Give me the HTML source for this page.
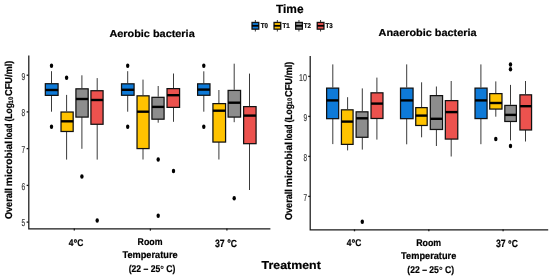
<!DOCTYPE html><html><head><meta charset="utf-8"><style>html,body{margin:0;padding:0;background:#fff;width:550px;height:278px;overflow:hidden}svg{display:block}</style></head><body><svg width="550" height="278" viewBox="0 0 550 278">
<style>.w{stroke:#3a3a3a;stroke-width:1}.b{stroke:#111;stroke-width:1.25}.m{stroke:#000;stroke-width:2.4}.o{fill:#000}.ax{stroke:#1a1a1a;stroke-width:1.25;fill:none}.tk{stroke:#1a1a1a;stroke-width:1.3}text{font-family:"Liberation Sans",Arial,sans-serif;text-rendering:geometricPrecision}.bd{font-weight:bold;fill:#000;stroke:#000;stroke-width:0.2}.tl{fill:#333;stroke:#333;stroke-width:0.15}</style>
<rect width="550" height="278" fill="#fff"/>
<path class="ax" d="M28.8,55.6 V228.9 H270.4"/>
<path class="ax" d="M310.2,56.1 V229.8 H548.2"/>
<line class="tk" x1="26.6" y1="75.2" x2="28.6" y2="75.2"/>
<text class="tl" x="25.3" y="79.5" font-size="10" text-anchor="end" textLength="3.7" lengthAdjust="spacingAndGlyphs">9</text>
<line class="tk" x1="26.6" y1="111.9" x2="28.6" y2="111.9"/>
<text class="tl" x="25.3" y="116.2" font-size="10" text-anchor="end" textLength="3.7" lengthAdjust="spacingAndGlyphs">8</text>
<line class="tk" x1="26.6" y1="148.6" x2="28.6" y2="148.6"/>
<text class="tl" x="25.3" y="152.9" font-size="10" text-anchor="end" textLength="3.7" lengthAdjust="spacingAndGlyphs">7</text>
<line class="tk" x1="26.6" y1="185.4" x2="28.6" y2="185.4"/>
<text class="tl" x="25.3" y="189.7" font-size="10" text-anchor="end" textLength="3.7" lengthAdjust="spacingAndGlyphs">6</text>
<line class="tk" x1="26.6" y1="222.1" x2="28.6" y2="222.1"/>
<text class="tl" x="25.3" y="226.4" font-size="10" text-anchor="end" textLength="3.7" lengthAdjust="spacingAndGlyphs">5</text>
<line class="tk" x1="308.2" y1="76.4" x2="310.2" y2="76.4"/>
<text class="tl" x="307.0" y="80.5" font-size="10" text-anchor="end" textLength="7.9" lengthAdjust="spacingAndGlyphs">10</text>
<line class="tk" x1="308.2" y1="116.4" x2="310.2" y2="116.4"/>
<text class="tl" x="307.0" y="120.5" font-size="10" text-anchor="end" textLength="3.6" lengthAdjust="spacingAndGlyphs">9</text>
<line class="tk" x1="308.2" y1="156.4" x2="310.2" y2="156.4"/>
<text class="tl" x="307.0" y="160.5" font-size="10" text-anchor="end" textLength="3.6" lengthAdjust="spacingAndGlyphs">8</text>
<line class="tk" x1="308.2" y1="196.4" x2="310.2" y2="196.4"/>
<text class="tl" x="307.0" y="200.5" font-size="10" text-anchor="end" textLength="3.6" lengthAdjust="spacingAndGlyphs">7</text>
<line class="tk" x1="74.3" y1="228.6" x2="74.3" y2="230.6"/>
<line class="tk" x1="150.4" y1="228.6" x2="150.4" y2="230.6"/>
<line class="tk" x1="226.9" y1="228.6" x2="226.9" y2="230.6"/>
<line class="tk" x1="354.5" y1="229.3" x2="354.5" y2="231.3"/>
<line class="tk" x1="428.8" y1="229.3" x2="428.8" y2="231.3"/>
<line class="tk" x1="503.1" y1="229.3" x2="503.1" y2="231.3"/>
<line x1="51.50" y1="71.20" x2="51.50" y2="83.10" class="w"/>
<line x1="51.50" y1="95.30" x2="51.50" y2="111.70" class="w"/>
<rect x="45.33" y="83.72" width="12.75" height="11.65" fill="#0e7ad8" class="b"/>
<line x1="45.33" y1="90.00" x2="58.08" y2="90.00" class="m"/>
<ellipse cx="51.50" cy="65.70" rx="1.7" ry="2.25" class="o"/>
<ellipse cx="51.50" cy="126.80" rx="1.7" ry="2.25" class="o"/>
<line x1="66.60" y1="94.90" x2="66.60" y2="111.40" class="w"/>
<line x1="66.60" y1="131.40" x2="66.60" y2="159.60" class="w"/>
<rect x="61.02" y="112.03" width="12.15" height="19.45" fill="#ffc300" class="b"/>
<line x1="61.02" y1="121.30" x2="73.17" y2="121.30" class="m"/>
<ellipse cx="66.60" cy="77.80" rx="1.7" ry="2.25" class="o"/>
<line x1="81.90" y1="75.30" x2="81.90" y2="88.20" class="w"/>
<line x1="81.90" y1="117.00" x2="81.90" y2="148.80" class="w"/>
<rect x="75.92" y="88.83" width="12.25" height="28.25" fill="#8d8d8d" class="b"/>
<line x1="75.92" y1="99.00" x2="88.17" y2="99.00" class="m"/>
<ellipse cx="81.90" cy="176.40" rx="1.7" ry="2.25" class="o"/>
<line x1="97.20" y1="78.10" x2="97.20" y2="90.10" class="w"/>
<line x1="97.20" y1="124.20" x2="97.20" y2="159.60" class="w"/>
<rect x="90.92" y="90.72" width="12.15" height="33.55" fill="#ec524e" class="b"/>
<line x1="90.92" y1="100.00" x2="103.08" y2="100.00" class="m"/>
<ellipse cx="97.20" cy="220.50" rx="1.7" ry="2.25" class="o"/>
<line x1="127.70" y1="71.20" x2="127.70" y2="83.20" class="w"/>
<line x1="127.70" y1="95.20" x2="127.70" y2="111.70" class="w"/>
<rect x="121.53" y="83.83" width="12.55" height="11.45" fill="#0e7ad8" class="b"/>
<line x1="121.53" y1="89.80" x2="134.07" y2="89.80" class="m"/>
<ellipse cx="127.70" cy="65.70" rx="1.7" ry="2.25" class="o"/>
<ellipse cx="127.70" cy="126.70" rx="1.7" ry="2.25" class="o"/>
<line x1="143.00" y1="79.60" x2="143.00" y2="95.20" class="w"/>
<line x1="143.00" y1="148.50" x2="143.00" y2="159.50" class="w"/>
<rect x="137.03" y="95.83" width="12.05" height="52.75" fill="#ffc300" class="b"/>
<line x1="137.03" y1="111.70" x2="149.07" y2="111.70" class="m"/>
<line x1="158.20" y1="86.00" x2="158.20" y2="96.70" class="w"/>
<line x1="158.20" y1="119.10" x2="158.20" y2="122.70" class="w"/>
<rect x="151.93" y="97.33" width="12.15" height="21.85" fill="#8d8d8d" class="b"/>
<line x1="151.93" y1="106.90" x2="164.07" y2="106.90" class="m"/>
<ellipse cx="158.20" cy="159.60" rx="1.7" ry="2.25" class="o"/>
<ellipse cx="158.20" cy="215.80" rx="1.7" ry="2.25" class="o"/>
<line x1="173.50" y1="73.50" x2="173.50" y2="88.00" class="w"/>
<line x1="173.50" y1="107.30" x2="173.50" y2="121.80" class="w"/>
<rect x="167.03" y="88.62" width="12.55" height="18.75" fill="#ec524e" class="b"/>
<line x1="167.03" y1="95.20" x2="179.57" y2="95.20" class="m"/>
<ellipse cx="173.50" cy="170.90" rx="1.7" ry="2.25" class="o"/>
<line x1="203.80" y1="71.30" x2="203.80" y2="83.20" class="w"/>
<line x1="203.80" y1="95.20" x2="203.80" y2="111.70" class="w"/>
<rect x="197.62" y="83.83" width="12.35" height="11.45" fill="#0e7ad8" class="b"/>
<line x1="197.62" y1="89.60" x2="209.97" y2="89.60" class="m"/>
<ellipse cx="203.80" cy="65.70" rx="1.7" ry="2.25" class="o"/>
<ellipse cx="203.80" cy="126.70" rx="1.7" ry="2.25" class="o"/>
<line x1="218.90" y1="90.00" x2="218.90" y2="103.00" class="w"/>
<line x1="218.90" y1="142.00" x2="218.90" y2="159.50" class="w"/>
<rect x="212.93" y="103.62" width="12.65" height="38.45" fill="#ffc300" class="b"/>
<line x1="212.93" y1="110.70" x2="225.57" y2="110.70" class="m"/>
<line x1="234.20" y1="63.70" x2="234.20" y2="89.80" class="w"/>
<line x1="234.20" y1="117.00" x2="234.20" y2="122.20" class="w"/>
<rect x="228.12" y="90.42" width="12.45" height="26.65" fill="#8d8d8d" class="b"/>
<line x1="228.12" y1="102.70" x2="240.57" y2="102.70" class="m"/>
<ellipse cx="234.20" cy="198.20" rx="1.7" ry="2.25" class="o"/>
<line x1="249.50" y1="73.60" x2="249.50" y2="106.00" class="w"/>
<line x1="249.50" y1="143.60" x2="249.50" y2="190.00" class="w"/>
<rect x="243.62" y="106.62" width="12.45" height="37.05" fill="#ec524e" class="b"/>
<line x1="243.62" y1="115.60" x2="256.07" y2="115.60" class="m"/>
<line x1="332.80" y1="64.40" x2="332.80" y2="87.50" class="w"/>
<line x1="332.80" y1="118.60" x2="332.80" y2="144.10" class="w"/>
<rect x="326.62" y="88.12" width="12.05" height="30.55" fill="#0e7ad8" class="b"/>
<line x1="326.62" y1="100.40" x2="338.68" y2="100.40" class="m"/>
<line x1="347.60" y1="97.20" x2="347.60" y2="109.20" class="w"/>
<line x1="347.60" y1="144.30" x2="347.60" y2="150.40" class="w"/>
<rect x="341.43" y="109.83" width="11.65" height="34.55" fill="#ffc300" class="b"/>
<line x1="341.43" y1="121.60" x2="353.07" y2="121.60" class="m"/>
<line x1="362.30" y1="88.40" x2="362.30" y2="111.20" class="w"/>
<line x1="362.30" y1="137.20" x2="362.30" y2="149.60" class="w"/>
<rect x="356.12" y="111.83" width="11.85" height="25.45" fill="#8d8d8d" class="b"/>
<line x1="356.12" y1="118.30" x2="367.98" y2="118.30" class="m"/>
<ellipse cx="362.30" cy="221.80" rx="1.7" ry="2.25" class="o"/>
<line x1="376.90" y1="77.60" x2="376.90" y2="92.20" class="w"/>
<line x1="376.90" y1="118.40" x2="376.90" y2="139.60" class="w"/>
<rect x="371.02" y="92.83" width="11.95" height="25.65" fill="#ec524e" class="b"/>
<line x1="371.02" y1="103.60" x2="382.98" y2="103.60" class="m"/>
<line x1="406.70" y1="64.40" x2="406.70" y2="87.50" class="w"/>
<line x1="406.70" y1="118.60" x2="406.70" y2="144.30" class="w"/>
<rect x="400.52" y="88.12" width="12.55" height="30.55" fill="#0e7ad8" class="b"/>
<line x1="400.52" y1="100.40" x2="413.07" y2="100.40" class="m"/>
<line x1="421.60" y1="82.30" x2="421.60" y2="107.00" class="w"/>
<line x1="421.60" y1="125.40" x2="421.60" y2="137.30" class="w"/>
<rect x="415.73" y="107.62" width="11.45" height="17.85" fill="#ffc300" class="b"/>
<line x1="415.73" y1="115.60" x2="427.18" y2="115.60" class="m"/>
<line x1="436.40" y1="86.50" x2="436.40" y2="95.00" class="w"/>
<line x1="436.40" y1="129.40" x2="436.40" y2="146.00" class="w"/>
<rect x="430.32" y="95.62" width="12.25" height="33.85" fill="#8d8d8d" class="b"/>
<line x1="430.32" y1="118.80" x2="442.57" y2="118.80" class="m"/>
<line x1="451.20" y1="81.00" x2="451.20" y2="100.00" class="w"/>
<line x1="451.20" y1="139.00" x2="451.20" y2="156.50" class="w"/>
<rect x="445.32" y="100.62" width="12.45" height="38.45" fill="#ec524e" class="b"/>
<line x1="445.32" y1="112.10" x2="457.77" y2="112.10" class="m"/>
<line x1="480.90" y1="64.40" x2="480.90" y2="87.50" class="w"/>
<line x1="480.90" y1="118.50" x2="480.90" y2="144.20" class="w"/>
<rect x="475.02" y="88.12" width="12.05" height="30.45" fill="#0e7ad8" class="b"/>
<line x1="475.02" y1="100.40" x2="487.07" y2="100.40" class="m"/>
<line x1="495.80" y1="81.40" x2="495.80" y2="93.00" class="w"/>
<line x1="495.80" y1="109.00" x2="495.80" y2="116.70" class="w"/>
<rect x="489.73" y="93.62" width="12.25" height="15.45" fill="#ffc300" class="b"/>
<line x1="489.73" y1="103.00" x2="501.98" y2="103.00" class="m"/>
<ellipse cx="495.80" cy="139.10" rx="1.7" ry="2.25" class="o"/>
<line x1="510.50" y1="84.90" x2="510.50" y2="104.80" class="w"/>
<line x1="510.50" y1="121.40" x2="510.50" y2="140.40" class="w"/>
<rect x="504.82" y="105.42" width="11.55" height="16.05" fill="#8d8d8d" class="b"/>
<line x1="504.82" y1="114.90" x2="516.38" y2="114.90" class="m"/>
<ellipse cx="510.50" cy="64.40" rx="1.7" ry="2.25" class="o"/>
<ellipse cx="510.50" cy="69.30" rx="1.7" ry="2.25" class="o"/>
<ellipse cx="510.50" cy="146.00" rx="1.7" ry="2.25" class="o"/>
<line x1="525.50" y1="81.00" x2="525.50" y2="94.20" class="w"/>
<line x1="525.50" y1="129.90" x2="525.50" y2="141.50" class="w"/>
<rect x="519.92" y="94.83" width="11.65" height="35.15" fill="#ec524e" class="b"/>
<line x1="519.92" y1="106.20" x2="531.58" y2="106.20" class="m"/>
<text class="bd" x="276" y="12.5" font-size="12" text-anchor="start" textLength="27.5" lengthAdjust="spacingAndGlyphs" >Time</text>
<text class="bd" x="109.4" y="36.7" font-size="10.1" text-anchor="start" textLength="85.3" lengthAdjust="spacingAndGlyphs" >Aerobic bacteria</text>
<text class="bd" x="378.6" y="35.7" font-size="10.1" text-anchor="start" textLength="97.9" lengthAdjust="spacingAndGlyphs" >Anaerobic bacteria</text>
<text class="bd" x="261.6" y="269.1" font-size="11.5" text-anchor="start" textLength="59.2" lengthAdjust="spacingAndGlyphs" >Treatment</text>
<text class="bd" x="68.85000000000001" y="246.2" font-size="9.8" text-anchor="start" textLength="14.5" lengthAdjust="spacingAndGlyphs" >4<tspan font-size="11" dy="0.6">°</tspan><tspan dy="-0.6">C</tspan></text>
<text class="bd" x="346.79999999999995" y="246.2" font-size="9.8" text-anchor="start" textLength="14.5" lengthAdjust="spacingAndGlyphs" >4<tspan font-size="11" dy="0.6">°</tspan><tspan dy="-0.6">C</tspan></text>
<text class="bd" x="137.54999999999998" y="244.5" font-size="9.8" text-anchor="start" textLength="24.9" lengthAdjust="spacingAndGlyphs" >Room</text>
<text class="bd" x="122.44999999999999" y="257.9" font-size="9.8" text-anchor="start" textLength="55.2" lengthAdjust="spacingAndGlyphs" >Temperature</text>
<text class="bd" x="128.64999999999998" y="272.3" font-size="9.8" text-anchor="start" textLength="46.8" lengthAdjust="spacingAndGlyphs" >(22 – 25<tspan font-size="10.5" dy="0.9" stroke-width="0.1">°</tspan><tspan dy="-0.9"> C)</tspan></text>
<text class="bd" x="416.20000000000005" y="245.9" font-size="9.8" text-anchor="start" textLength="24.9" lengthAdjust="spacingAndGlyphs" >Room</text>
<text class="bd" x="401.1" y="259.3" font-size="9.8" text-anchor="start" textLength="55.2" lengthAdjust="spacingAndGlyphs" >Temperature</text>
<text class="bd" x="407.3" y="273.3" font-size="9.8" text-anchor="start" textLength="46.8" lengthAdjust="spacingAndGlyphs" >(22 – 25<tspan font-size="10.5" dy="0.9" stroke-width="0.1">°</tspan><tspan dy="-0.9"> C)</tspan></text>
<text class="bd" x="215.0" y="246.5" font-size="10.6" text-anchor="start" textLength="9.7" lengthAdjust="spacingAndGlyphs" >37</text>
<text class="bd" x="227.2" y="246.5" font-size="10.4" text-anchor="start" textLength="9.8" lengthAdjust="spacingAndGlyphs" ><tspan font-size="11" dy="0.6">°</tspan><tspan dy="-0.6">C</tspan></text>
<text class="bd" x="495.9" y="247.1" font-size="10.6" text-anchor="start" textLength="9.7" lengthAdjust="spacingAndGlyphs" >37</text>
<text class="bd" x="508.09999999999997" y="247.1" font-size="10.4" text-anchor="start" textLength="9.8" lengthAdjust="spacingAndGlyphs" ><tspan font-size="11" dy="0.6">°</tspan><tspan dy="-0.6">C</tspan></text>
<g transform="translate(12.2,0) rotate(-90)">
<text class="bd" font-size="10.0" x="-219.05" y="0" textLength="30.90" lengthAdjust="spacingAndGlyphs">Overall</text>
<text class="bd" font-size="10.0" x="-186.15" y="0" textLength="45.10" lengthAdjust="spacingAndGlyphs">microbial</text>
<text class="bd" font-size="10.0" x="-139.45" y="0" textLength="15.80" lengthAdjust="spacingAndGlyphs">load</text>
<text class="bd" font-size="10.0" x="-121.55" y="0" textLength="18.40" lengthAdjust="spacingAndGlyphs">(Log</text>
<text class="bd" font-size="6.6" x="-103.45" y="0.5" textLength="6.70" lengthAdjust="spacingAndGlyphs">10</text>
<text class="bd" font-size="10.0" x="-96.05" y="0" textLength="35.50" lengthAdjust="spacingAndGlyphs">CFU/ml)</text>
</g>
<g transform="translate(291.9,0) rotate(-90)">
<text class="bd" font-size="10.0" x="-220.05" y="0" textLength="30.90" lengthAdjust="spacingAndGlyphs">Overall</text>
<text class="bd" font-size="10.0" x="-187.15" y="0" textLength="45.10" lengthAdjust="spacingAndGlyphs">microbial</text>
<text class="bd" font-size="10.0" x="-140.45" y="0" textLength="15.80" lengthAdjust="spacingAndGlyphs">load</text>
<text class="bd" font-size="10.0" x="-122.55" y="0" textLength="18.40" lengthAdjust="spacingAndGlyphs">(Log</text>
<text class="bd" font-size="6.6" x="-104.45" y="0.5" textLength="6.70" lengthAdjust="spacingAndGlyphs">10</text>
<text class="bd" font-size="10.0" x="-97.05" y="0" textLength="35.50" lengthAdjust="spacingAndGlyphs">CFU/ml)</text>
</g>
<line class="w" x1="255.35" y1="20" x2="255.35" y2="31.5"/>
<rect x="252.05" y="22.45" width="6.7" height="6.7" fill="#0e7ad8" class="b" style="stroke-width:1.3"/>
<line class="m" x1="251.90" y1="25.8" x2="258.90" y2="25.8" style="stroke-width:1.8"/>
<text class="bd" x="260.8" y="27.9" font-size="7.0" text-anchor="start" textLength="7.2" lengthAdjust="spacingAndGlyphs" stroke="#000" stroke-width="0.4">T0</text>
<line class="w" x1="277.35" y1="20" x2="277.35" y2="31.5"/>
<rect x="274.05" y="22.45" width="6.7" height="6.7" fill="#ffc300" class="b" style="stroke-width:1.3"/>
<line class="m" x1="273.90" y1="25.8" x2="280.90" y2="25.8" style="stroke-width:1.8"/>
<text class="bd" x="282.5" y="27.9" font-size="7.0" text-anchor="start" textLength="7.2" lengthAdjust="spacingAndGlyphs" stroke="#000" stroke-width="0.4">T1</text>
<line class="w" x1="298.95" y1="20" x2="298.95" y2="31.5"/>
<rect x="295.65" y="22.45" width="6.7" height="6.7" fill="#8d8d8d" class="b" style="stroke-width:1.3"/>
<line class="m" x1="295.50" y1="25.8" x2="302.50" y2="25.8" style="stroke-width:1.8"/>
<text class="bd" x="303.8" y="27.9" font-size="7.0" text-anchor="start" textLength="7.2" lengthAdjust="spacingAndGlyphs" stroke="#000" stroke-width="0.4">T2</text>
<line class="w" x1="320.55" y1="20" x2="320.55" y2="31.5"/>
<rect x="317.25" y="22.45" width="6.7" height="6.7" fill="#ec524e" class="b" style="stroke-width:1.3"/>
<line class="m" x1="317.10" y1="25.8" x2="324.10" y2="25.8" style="stroke-width:1.8"/>
<text class="bd" x="325.5" y="27.9" font-size="7.0" text-anchor="start" textLength="7.2" lengthAdjust="spacingAndGlyphs" stroke="#000" stroke-width="0.4">T3</text>
</svg></body></html>
